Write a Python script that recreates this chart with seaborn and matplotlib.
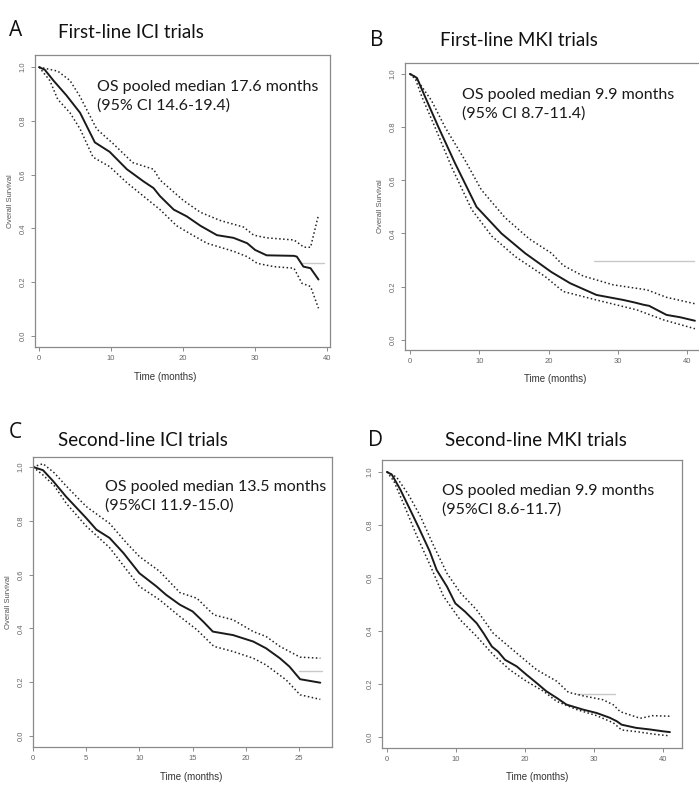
import matplotlib
matplotlib.use("Agg")
import matplotlib.pyplot as plt
import seaborn as sns

sns.set_theme(style="white")
plt.rcParams['font.family'] = ['Liberation Sans', 'DejaVu Sans']

# Panel A - first-line ICI trials
a_time = [0, 0.8, 2, 3.8, 5.7, 7.75, 9.8, 12.2, 14.5, 15.9, 16.8, 18.7, 20.5, 22.4,
          24.7, 27, 28.9, 30, 31.6, 35.4, 35.8, 36.7, 37.7, 38.8]
a_os = [1.0, 0.99, 0.95, 0.895, 0.83, 0.72, 0.685, 0.62, 0.575, 0.55, 0.52, 0.47, 0.445,
        0.41, 0.375, 0.365, 0.345, 0.32, 0.30, 0.298, 0.295, 0.258, 0.252, 0.21]
a_up_time = [0, 2.6, 4.3, 5.7, 8, 10.3, 13, 15.9, 16.8, 20, 22.4, 25.1, 28.4, 29.8,
             31.6, 35.4, 36.8, 37.7, 38.8]
a_up = [1.0, 0.985, 0.95, 0.89, 0.77, 0.715, 0.645, 0.62, 0.58, 0.505, 0.46, 0.43,
        0.405, 0.375, 0.365, 0.357, 0.33, 0.33, 0.45]
a_lo_time = [0, 1.5, 2.6, 4.3, 5.7, 7.5, 9.8, 12.2, 14.5, 16.8, 19.1, 21, 23.3, 27,
             28.9, 30.3, 32.6, 35.4, 36.5, 37.7, 38.8]
a_lo = [1.0, 0.95, 0.88, 0.83, 0.77, 0.665, 0.63, 0.57, 0.52, 0.47, 0.41, 0.38, 0.345,
        0.315, 0.295, 0.27, 0.258, 0.252, 0.196, 0.184, 0.103]
a_grey_time = [36.5, 39.5]
a_grey = [0.27, 0.27]

# Panel B - first-line MKI trials
b_time = [0, 1, 2.16, 4.1, 6.5, 9.6, 13.2, 16.6, 20.4, 23.1, 26.9, 30.8, 32.5, 33.7,
          34.5, 37, 39, 41.1]
b_os = [1.0, 0.985, 0.915, 0.80, 0.664, 0.50, 0.40, 0.326, 0.255, 0.213, 0.169, 0.15,
        0.14, 0.132, 0.128, 0.094, 0.085, 0.072]
b_up_time = [0, 0.7, 3.1, 5.05, 7.9, 10.3, 13.7, 17.2, 20.4, 22.1, 25, 29.3, 34.2, 37,
             41.1]
b_up = [1.0, 0.99, 0.90, 0.80, 0.677, 0.564, 0.46, 0.38, 0.326, 0.28, 0.24, 0.207,
        0.188, 0.16, 0.136]
b_lo_time = [0, 0.8, 1.7, 3.6, 6.0, 8.9, 11.8, 15.2, 19.5, 22.1, 26.9, 32.7, 36.6, 41.1]
b_lo = [1.0, 0.98, 0.915, 0.80, 0.65, 0.49, 0.39, 0.313, 0.238, 0.182, 0.15, 0.113,
        0.075, 0.042]
b_grey_time = [26.5, 41.0]
b_grey = [0.298, 0.298]

# Panel C - second-line ICI trials
c_time = [0, 0.94, 1.9, 3.1, 5, 5.96, 7.2, 8.5, 10, 11.6, 12.5, 13.8, 15, 16, 16.9,
          18.8, 20.7, 21.9, 23.2, 24.1, 25.1, 27]
c_os = [1.0, 0.988, 0.947, 0.89, 0.81, 0.767, 0.736, 0.68, 0.605, 0.556, 0.525, 0.488,
        0.463, 0.425, 0.388, 0.375, 0.351, 0.326, 0.289, 0.258, 0.211, 0.198]
c_up_time = [0, 0.94, 2, 3.1, 5, 7.2, 8.8, 10, 11.9, 13.8, 15.4, 17, 18.8, 20.7, 21.9,
             23.2, 25.1, 27]
c_up = [1.0, 1.012, 0.978, 0.93, 0.853, 0.79, 0.717, 0.667, 0.612, 0.533, 0.512, 0.45,
        0.432, 0.388, 0.37, 0.333, 0.293, 0.289]
c_lo_time = [0, 0.94, 2, 3.1, 5, 7.2, 10, 11.9, 13.8, 15.4, 17, 18.8, 20.7, 21.9, 23.8,
             25.1, 27]
c_lo = [1.0, 0.97, 0.93, 0.866, 0.78, 0.70, 0.556, 0.506, 0.444, 0.395, 0.333, 0.314,
        0.289, 0.264, 0.208, 0.153, 0.136]
c_grey_time = [25.0, 27.2]
c_grey = [0.24, 0.24]

# Panel D - second-line MKI trials
d_time = [0, 0.7, 1.9, 3.4, 4.6, 6.2, 7.2, 8.7, 9.9, 11.3, 13, 14, 15.2, 16.1, 17.1,
          18.8, 20.2, 21.7, 23.1, 24.6, 26, 28.4, 30.4, 32.3, 33.3, 34, 36.1, 38.1, 40, 41]
d_os = [1.0, 0.99, 0.935, 0.855, 0.79, 0.70, 0.63, 0.567, 0.504, 0.473, 0.429, 0.391,
        0.341, 0.322, 0.291, 0.266, 0.235, 0.203, 0.172, 0.147, 0.122, 0.103, 0.09,
        0.072, 0.059, 0.046, 0.034, 0.028, 0.021, 0.018]
d_up_time = [0, 1.4, 3.1, 4.8, 6.7, 8.7, 10.6, 13, 15.4, 18.8, 21.7, 24.6, 26.3, 28.4,
             31.3, 32.8, 33.8, 36.7, 38.5, 41]
d_up = [1.0, 0.98, 0.915, 0.835, 0.725, 0.617, 0.545, 0.479, 0.391, 0.316, 0.253, 0.21,
        0.168, 0.155, 0.14, 0.121, 0.095, 0.07, 0.08, 0.078]
d_lo_time = [0, 1, 2.4, 4.3, 6.3, 8.2, 10.6, 13, 15.4, 17.8, 20.2, 22.7, 24.6, 27.5,
             30.4, 32.8, 34, 36.1, 39, 41]
d_lo = [1.0, 0.965, 0.88, 0.76, 0.645, 0.53, 0.442, 0.379, 0.31, 0.253, 0.21, 0.172,
        0.134, 0.103, 0.08, 0.053, 0.026, 0.02, 0.009, 0.004]
d_grey_time = [27.5, 33.0]
d_grey = [0.16, 0.16]

letters = ["A", "B", "C", "D"]
titles = ["First-line ICI trials", "First-line MKI trials",
          "Second-line ICI trials", "Second-line MKI trials"]
notes = ["OS pooled median 17.6 months\n(95% CI 14.6-19.4)",
         "OS pooled median 9.9 months\n(95% CI 8.7-11.4)",
         "OS pooled median 13.5 months\n(95%CI 11.9-15.0)",
         "OS pooled median 9.9 months\n(95%CI 8.6-11.7)"]
x_ticks = [[0, 10, 20, 30, 40], [0, 10, 20, 30, 40], [0, 5, 10, 15, 20, 25], [0, 10, 20, 30, 40]]
y_ticks = [0.0, 0.2, 0.4, 0.6, 0.8, 1.0]

W, H = 699, 799
fig = plt.figure(figsize=(W / 100, H / 100), dpi=100)
fig.patch.set_facecolor("white")

# pixel boxes: left, top, right, bottom ; xlim ; ylim
boxes = [(35, 55, 330, 347), (405, 63, 706, 350), (33, 457, 332, 747), (382, 460, 682, 748)]
xlims = [(-0.56, 40.4), (-0.72, 42.7), (0, 28.1), (-0.72, 42.75)]
ylims = [(-0.041, 1.045), (-0.038, 1.041), (-0.041, 1.037), (-0.042, 1.045)]
title_pos = [(58, 33), (440, 40), (58, 440), (445, 440)]
letter_pos = [(9, 31), (370, 40), (9, 432), (368, 441)]
note_pos = [(97, 80), (462, 88), (105, 480), (442, 484)]
xlab_x = [0.44, 0.5, 0.53, 0.517]
ylab = [True, True, True, False]

panels = [
    (a_time, a_os, a_up_time, a_up, a_lo_time, a_lo, a_grey_time, a_grey),
    (b_time, b_os, b_up_time, b_up, b_lo_time, b_lo, b_grey_time, b_grey),
    (c_time, c_os, c_up_time, c_up, c_lo_time, c_lo, c_grey_time, c_grey),
    (d_time, d_os, d_up_time, d_up, d_lo_time, d_lo, d_grey_time, d_grey),
]

for i, (t, s, ut, u, lt, lo, gt, g) in enumerate(panels):
    l, tp, r, b = boxes[i]
    ax = fig.add_axes([l / W, 1 - b / H, (r - l) / W, (b - tp) / H])
    ax.set_facecolor("white")

    sns.lineplot(x=gt, y=g, ax=ax, color="#c8c8c8", lw=1.0, estimator=None, sort=False)
    sns.lineplot(x=ut, y=u, ax=ax, color="#222222", lw=1.1, linestyle=(0, (1, 1.6)),
                 estimator=None, sort=False)
    sns.lineplot(x=lt, y=lo, ax=ax, color="#222222", lw=1.1, linestyle=(0, (1, 1.6)),
                 estimator=None, sort=False)
    sns.lineplot(x=t, y=s, ax=ax, color="#1a1a1a", lw=1.4, estimator=None, sort=False)

    ax.set_xlim(*xlims[i])
    ax.set_ylim(*ylims[i])
    ax.set_xticks(x_ticks[i])
    ax.set_yticks(y_ticks)
    ax.set_yticklabels([f"{v:.1f}" for v in y_ticks], rotation=90, va="center")
    ax.tick_params(axis="both", which="both", length=3, width=0.6, color="#777777",
                   labelsize=5.5, labelcolor="#666666", pad=3, left=True, bottom=True)
    for sp in ax.spines.values():
        sp.set_color("#8a8a8a")
        sp.set_linewidth(0.9)
    ax.set_xlabel("Time (months)", fontsize=7, color="#333333", labelpad=10)
    ax.xaxis.set_label_coords(xlab_x[i], -0.085)
    if ylab[i]:
        ax.set_ylabel("Overall Survival", fontsize=5.5, color="#555555", labelpad=4)
    else:
        ax.set_ylabel("")

    fig.text(letter_pos[i][0] / W, 1 - letter_pos[i][1] / H, letters[i],
             fontsize=15, family=["Open Sans", "DejaVu Sans"], color="#111111",
             ha="left", va="center")
    fig.text(title_pos[i][0] / W, 1 - title_pos[i][1] / H, titles[i],
             fontsize=13.5, family=["Lato", "DejaVu Sans"], color="#111111",
             ha="left", va="center")
    fig.text(note_pos[i][0] / W, 1 - note_pos[i][1] / H, notes[i],
             fontsize=11.5, family=["Lato", "DejaVu Sans"], color="#1a1a1a",
             ha="left", va="top", linespacing=1.35)

fig.savefig("out.png", dpi=100, facecolor="white")
